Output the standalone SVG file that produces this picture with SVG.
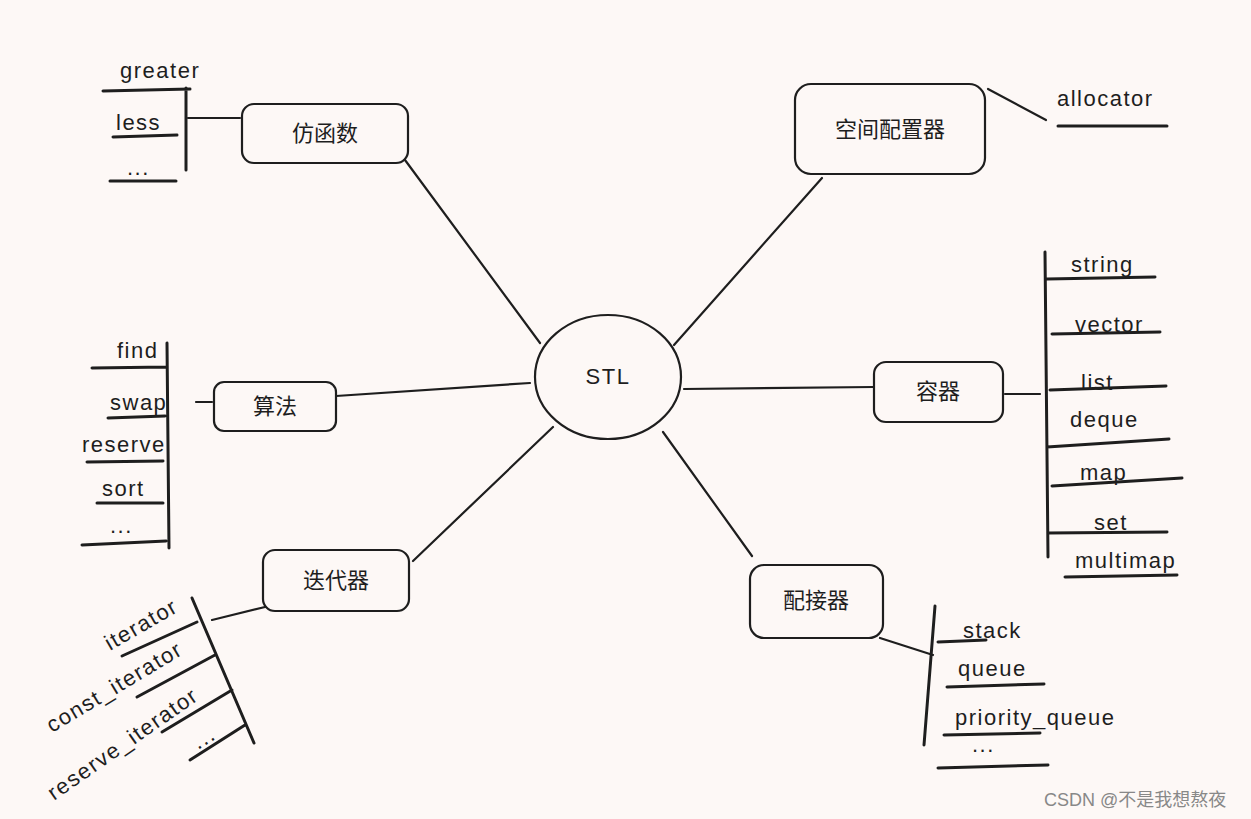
<svg xmlns="http://www.w3.org/2000/svg" width="1251" height="819" viewBox="0 0 1251 819">
<style>
.n{fill:none;stroke:#1e1e1e;stroke-width:2.2}
.l{stroke:#1e1e1e;stroke-width:2.2;fill:none;stroke-linecap:round}
.b{stroke:#1e1e1e;stroke-width:3;fill:none;stroke-linecap:round}
.t{font-family:"Liberation Sans","Noto Sans CJK SC",sans-serif;font-size:22px;fill:#1e1e1e}
.s{font-family:"Liberation Sans",sans-serif;font-size:22px;letter-spacing:1.5px;fill:#1e1e1e}
.w{font-family:"Liberation Sans","Noto Sans CJK SC",sans-serif;font-size:18px;fill:#888}
</style>
<rect width="1251" height="819" fill="#fdf8f6"/>
<g id="connectors">
<path class="l" d="M405 160L540 343M822 178L674 345M336 396L530 383M684 389L874 387M553 427L413 561M663 432L752 556"/>
<path class="l" d="M188 118L240 118M988 89L1046 120M1005 394L1040 394M212 620L265 607M880 638L933 655M196 402L212 402"/>
</g>
<g id="stl"><ellipse class="n" cx="608" cy="377" rx="73" ry="62"/><text class="s" x="608" y="384" text-anchor="middle">STL</text></g>
<g id="fanghanshu"><rect class="n" x="242" y="104" width="166" height="59" rx="12"/><text class="t" x="325" y="141" text-anchor="middle">仿函数</text></g>
<g id="kongjian"><rect class="n" x="795" y="84" width="190" height="90" rx="16"/><text class="t" x="890" y="137" text-anchor="middle">空间配置器</text></g>
<g id="suanfa"><rect class="n" x="214" y="382" width="122" height="49" rx="10"/><text class="t" x="275" y="414" text-anchor="middle">算法</text></g>
<g id="rongqi"><rect class="n" x="874" y="362" width="129" height="60" rx="12"/><text class="t" x="938" y="399" text-anchor="middle">容器</text></g>
<g id="diedaiqi"><rect class="n" x="263" y="550" width="146" height="61" rx="12"/><text class="t" x="336" y="588" text-anchor="middle">迭代器</text></g>
<g id="peijieqi"><rect class="n" x="750" y="565" width="133" height="73" rx="14"/><text class="t" x="816" y="608" text-anchor="middle">配接器</text></g>
<g id="functors">
<path class="b" d="M186 88L186 170M103 91L190 89M113 137L177 135M110 181L176 181"/>
<text class="s" x="120" y="78">greater</text><text class="s" x="116" y="130">less</text><text class="s" x="127" y="175">...</text>
</g>
<g id="alloc"><path class="b" d="M1058 126L1167 126"/><text class="s" x="1057" y="106">allocator</text></g>
<g id="algos">
<path class="b" d="M167 343L169 548M92 368L167 367M108 418L165 416M87 462L163 461M97 503L163 503M82 545L166 541"/>
<text class="s" x="117" y="358">find</text><text class="s" x="110" y="410">swap</text><text class="s" x="82" y="452">reserve</text><text class="s" x="102" y="496">sort</text><text class="s" x="110" y="533">...</text>
</g>
<g id="containers">
<path class="b" d="M1045 252L1048 557M1047 279L1155 277M1052 334L1160 332M1050 390L1166 386M1047 447L1169 439M1052 486L1182 478M1048 533L1167 532M1065 577L1177 575"/>
<text class="s" x="1071" y="272">string</text><text class="s" x="1075" y="332">vector</text><text class="s" x="1081" y="390">list</text><text class="s" x="1070" y="427">deque</text><text class="s" x="1080" y="480">map</text><text class="s" x="1094" y="530">set</text><text class="s" x="1075" y="568">multimap</text>
</g>
<g id="adapters">
<path class="b" d="M935 606L924 745M938 642L986 640M947 687L1044 684M944 735L1040 733M938 768L1048 765"/>
<text class="s" x="963" y="638">stack</text><text class="s" x="958" y="676">queue</text><text class="s" x="955" y="725">priority_queue</text><text class="s" x="972" y="752">...</text>
</g>
<g id="iterators">
<path class="b" d="M192 598L254 743M122 656L197 622M137 697L215 655M162 732L232 690M190 760L245 725"/>
<text class="s" transform="translate(110,651) rotate(-30)">iterator</text>
<text class="s" transform="translate(52,733) rotate(-31)">const_iterator</text>
<text class="s" transform="translate(54,801) rotate(-35)">reserve_iterator</text>
<text class="s" transform="translate(198,750) rotate(-32)">...</text>
</g>
<text class="w" x="1044" y="806">CSDN @不是我想熬夜</text>
</svg>
